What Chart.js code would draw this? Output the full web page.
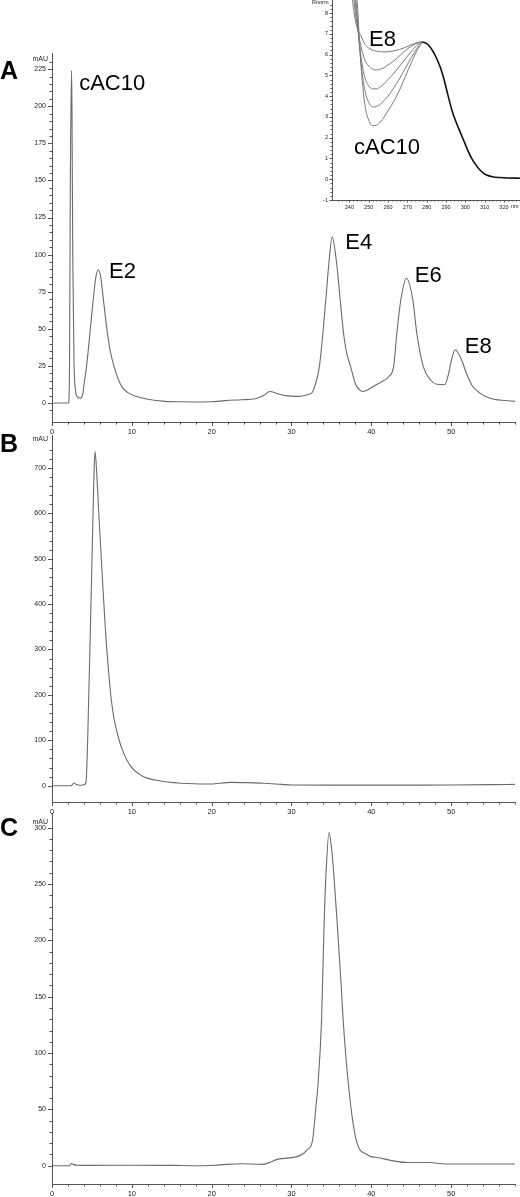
<!DOCTYPE html>
<html><head><meta charset="utf-8">
<script src="https://cdn.jsdelivr.net/npm/chart.js@4.4.1/dist/chart.umd.min.js"></script>
<style>
html,body{margin:0;padding:0;background:#fff;}
body{width:520px;height:1197px;position:relative;overflow:hidden;font-family:"Liberation Sans",Arial,sans-serif;}
canvas{position:absolute;}
.t{position:absolute;white-space:nowrap;color:#000;line-height:1;}
.panel{font-weight:bold;font-size:25px;left:0;}
.unit{font-size:7px;color:#222;text-align:right;width:30px;}
.small{font-size:5.5px;color:#222;}
</style></head><body>

<canvas id="cA" width="520" height="445" style="left:0;top:0"></canvas>
<canvas id="cB" width="520" height="400" style="left:0;top:425px"></canvas>
<canvas id="cC" width="520" height="397" style="left:0;top:800px"></canvas>
<canvas id="cI" width="220" height="230" style="left:300px;top:-10px"></canvas>

<div class="t panel" style="top:58px">A</div>
<div class="t panel" style="top:431px">B</div>
<div class="t panel" style="top:815px">C</div>
<div class="t unit" style="left:18px;top:55px">mAU</div>
<div class="t unit" style="left:18px;top:435px">mAU</div>
<div class="t unit" style="left:18px;top:818px">mAU</div>
<div class="t small" style="left:312px;top:0px">Rnorm</div>
<div class="t small" style="left:511px;top:204px">nm</div>

<script>
// ---------- Panel A: chromatogram of the conjugate mixture (min, mAU)
const aTime = [0,2.0,2.1,2.2,2.3,2.45,2.5,2.6,2.75,2.95,3.2,3.6,3.85,4.04,4.33,4.75,5.16,5.5,5.8,6.1,6.44,6.94,7.3,7.77,8.3,8.8,9.5,10.5,12,14.2,16,18.4,20,21.7,23.7,25.5,26.5,27.3,28.3,29.5,30.8,32.1,32.6,32.9,33.5,34.3,34.65,35.1,35.7,36.1,36.5,36.9,37.4,38.0,38.6,39.0,39.6,40.5,41.5,42.2,42.8,43.2,43.7,44.4,45.2,45.7,46.5,47.4,48.2,49.2,49.7,50.05,50.5,51.3,51.9,52.6,53.6,55,58];
const aSignal = [0,0,0.5,30,150,224,200,100,30,8,4,3.3,6,13.5,24.7,47,69.6,85,89.8,85,69.6,47,35,24.7,16,10.5,7,4.5,2.5,1.1,0.8,0.7,0.8,1.6,2.2,2.9,5,7.8,6.2,4.8,4.5,5.8,7.1,11,24.7,69.6,92,112,92,69.6,48,34,24.7,13,8.5,7.8,9,12,15,17.9,24.7,47,69.6,83.9,69.6,47,24.7,15.7,12.6,12.3,20.2,29.2,35.9,29.2,20.2,12,6.7,3,1.1];
const aPeakNames = ['cAC10','E2','E4','E6','E8'];
const aPeakNameTime = [3.4, 7.15, 36.75, 45.45, 51.7];
const aPeakNameSignal = [211, 84.2, 104, 81.7, 33.9];

// ---------- Panel B
const bTime = [0,2.4,2.75,3.0,3.5,4.0,4.25,4.37,4.49,4.79,5.07,5.25,5.39,5.6,5.8,6.03,6.4,6.74,7.1,7.44,7.8,8.19,8.81,9.85,11.3,13.4,16.3,19.6,22.5,24.6,26.5,28.7,30,35,40,45,50,55,58];
const bSignal = [0,0,6,3,1,2,7,43,115,330,546,680,736,690,620,546,430,330,250,187,145,115,79,43,21.5,10.8,5.3,3.7,7.4,6.7,5.5,3,1.5,1.2,1.2,1.3,1.5,2.3,3];

// ---------- Panel C
const cTime = [0,2.2,2.4,2.7,3.2,5,10,15,18.4,21,23.7,26.4,27.5,28.3,30.8,32.0,32.65,33.06,33.27,33.77,34.1,34.35,34.7,35.0,35.26,35.7,36.26,36.47,37.2,38.1,39.5,41.1,44.5,47.3,49.2,58];
const cSignal = [0,0,2,1,0.5,0.3,0.5,0.3,0,0.8,1.8,1.2,3.5,5.9,8.3,14.2,23,52.6,67.4,129.5,218,262.6,295.7,283,262.6,218,156,129.5,67.4,23,9.8,6.8,2.9,2.9,1.5,1.5];

// ---------- Inset: normalised UV spectra (nm, Rnorm)
const insetWl = [238,240,242,244,246,248,250,252,254,256,258,260,263,266,269,272,275,277.5];
const specCAC10 = [17,14,11,8.6,5.5,3.6,2.85,2.58,2.6,2.75,3.0,3.3,3.75,4.3,4.95,5.6,6.2,6.58];
const specE2 = [16,13,10.3,7.9,5.6,4.3,3.7,3.48,3.5,3.6,3.8,4.0,4.4,4.85,5.35,5.85,6.3,6.58];
const specE4 = [15,12.3,9.7,7.6,5.9,4.9,4.5,4.35,4.35,4.45,4.6,4.8,5.1,5.45,5.8,6.15,6.45,6.6];
const specE6 = [14,11.5,9.0,7.4,6.4,5.75,5.45,5.3,5.26,5.3,5.37,5.5,5.7,5.95,6.2,6.4,6.55,6.6];
const specE8 = [13,10.5,8.3,7.3,6.9,6.5,6.32,6.22,6.17,6.14,6.13,6.14,6.18,6.25,6.35,6.47,6.58,6.62];
const sharedWl = [277.5,279,281,283,285,287,289,291,293,295,297,299,301,303,305,307,309,311,314,318,322,328.3];
const sharedVal = [6.6,6.58,6.45,6.2,5.85,5.4,4.8,4.05,3.35,2.8,2.35,1.9,1.45,1.05,0.75,0.5,0.32,0.2,0.12,0.08,0.06,0.05];
const insetNames = ['E8','cAC10'];
const insetNameWl = [250.2, 242.4];
const insetNameVal = [6.42, 1.23];

Chart.defaults.font.family = '"Liberation Sans", Arial, sans-serif';
Chart.defaults.color = '#222';

function isMult(v, step){ return Math.abs(v/step - Math.round(v/step)) < 1e-6; }
function pts(xs, ys){ return xs.map((x,i)=>({x:x, y:ys[i]})); }

function tickMarksPlugin(xMajor, yMajor, majorLen, minorLen){
  return {
    id:'tickMarks',
    afterDraw(chart){
      const ctx = chart.ctx, a = chart.chartArea;
      const xs = chart.scales.x, ys = chart.scales.y;
      ctx.save();
      ctx.strokeStyle = '#555'; ctx.lineWidth = 1;
      ctx.beginPath();
      xs.ticks.forEach(t=>{
        const px = Math.round(xs.getPixelForValue(t.value)) + 0.5;
        const len = isMult(t.value, xMajor) ? majorLen : minorLen;
        ctx.moveTo(px, a.bottom); ctx.lineTo(px, a.bottom + len);
      });
      ys.ticks.forEach(t=>{
        const py = Math.round(ys.getPixelForValue(t.value)) + 0.5;
        const len = isMult(t.value, yMajor) ? majorLen : minorLen;
        ctx.moveTo(a.left, py); ctx.lineTo(a.left - len, py);
      });
      ctx.stroke();
      ctx.restore();
    }
  };
}

function textPlugin(names, xs, ys, font){
  return {
    id:'peakText',
    afterDatasetsDraw(chart){
      const ctx = chart.ctx;
      ctx.save();
      ctx.font = font; ctx.fillStyle = '#000';
      ctx.textAlign = 'left'; ctx.textBaseline = 'alphabetic';
      names.forEach((n,i)=>{
        ctx.fillText(n, chart.scales.x.getPixelForValue(xs[i]), chart.scales.y.getPixelForValue(ys[i]));
      });
      ctx.restore();
    }
  };
}

function axisCfg(min, max, minor, major, fontSize, pad, afterFit){
  return {
    type:'linear', min:min, max:max,
    grid:{display:false, drawTicks:false},
    border:{display:true, color:'#555', width:1},
    ticks:{
      stepSize:minor, autoSkip:false, maxRotation:0, padding:pad,
      font:{size:fontSize}, color:'#222',
      callback:(v)=> isMult(v, major) ? String(Math.round(v)) : ''
    },
    afterBuildTicks:(s)=>{ s.ticks = s.ticks.filter(t=>isMult(t.value, minor) && t.value >= min - 1e-9 && t.value <= max + 1e-9); },
    afterFit:afterFit
  };
}

function chromatogram(id, times, signal, yMin, yMax, yMinor, yMajor, padTop, xAxisH, extraPlugins){
  return new Chart(document.getElementById(id), {
    type:'line',
    data:{datasets:[{data:pts(times, signal), borderColor:'#6a6a6a', borderWidth:1.1,
      pointRadius:0, cubicInterpolationMode:'monotone', fill:false}]},
    options:{
      responsive:false, animation:false, events:[],
      layout:{padding:{top:padTop, left:0, right:0, bottom:0}},
      plugins:{legend:{display:false}, tooltip:{enabled:false}},
      scales:{
        x:axisCfg(0, 58, 2, 10, 7.5, 5, s=>{ s.height = xAxisH; }),
        y:axisCfg(yMin, yMax, yMinor, yMajor, 7, 6, s=>{ s.width = 52; })
      }
    },
    plugins:[tickMarksPlugin(10, yMajor, 4, 2.5)].concat(extraPlugins || [])
  });
}

chromatogram('cA', aTime, aSignal, -12.8, 235.9, 5, 25, 53, 23,
  [textPlugin(aPeakNames, aPeakNameTime, aPeakNameSignal, '22px "Liberation Sans", Arial, sans-serif')]);
chromatogram('cB', bTime, bSignal, -35.9, 772, 20, 100, 10, 23);
chromatogram('cC', cTime, cSignal, -16.2, 313, 10, 50, 13, 13);

// ---------- Inset
const specStyle = {borderColor:'#7a7a7a', borderWidth:1, pointRadius:0, cubicInterpolationMode:'monotone', fill:false};
new Chart(document.getElementById('cI'), {
  type:'line',
  data:{datasets:[
    Object.assign({data:pts(insetWl, specCAC10)}, specStyle),
    Object.assign({data:pts(insetWl, specE2)}, specStyle),
    Object.assign({data:pts(insetWl, specE4)}, specStyle),
    Object.assign({data:pts(insetWl, specE6)}, specStyle),
    Object.assign({data:pts(insetWl, specE8)}, specStyle),
    {data:pts(sharedWl, sharedVal), borderColor:'#111', borderWidth:1.6, pointRadius:0, cubicInterpolationMode:'monotone', fill:false}
  ]},
  options:{
    responsive:false, animation:false, events:[],
    layout:{padding:{top:10, left:0, right:0, bottom:0}},
    plugins:{legend:{display:false}, tooltip:{enabled:false}},
    scales:{
      x:axisCfg(231, 328.3, 2, 10, 5.5, 4, s=>{ s.height = 20; }),
      y:axisCfg(-1, 8.63, 0.2, 1, 5.5, 4, s=>{ s.width = 32; })
    }
  },
  plugins:[tickMarksPlugin(10, 1, 2.5, 1.5),
    textPlugin(insetNames, insetNameWl, insetNameVal, '22px "Liberation Sans", Arial, sans-serif')]
});
</script>
</body></html>
